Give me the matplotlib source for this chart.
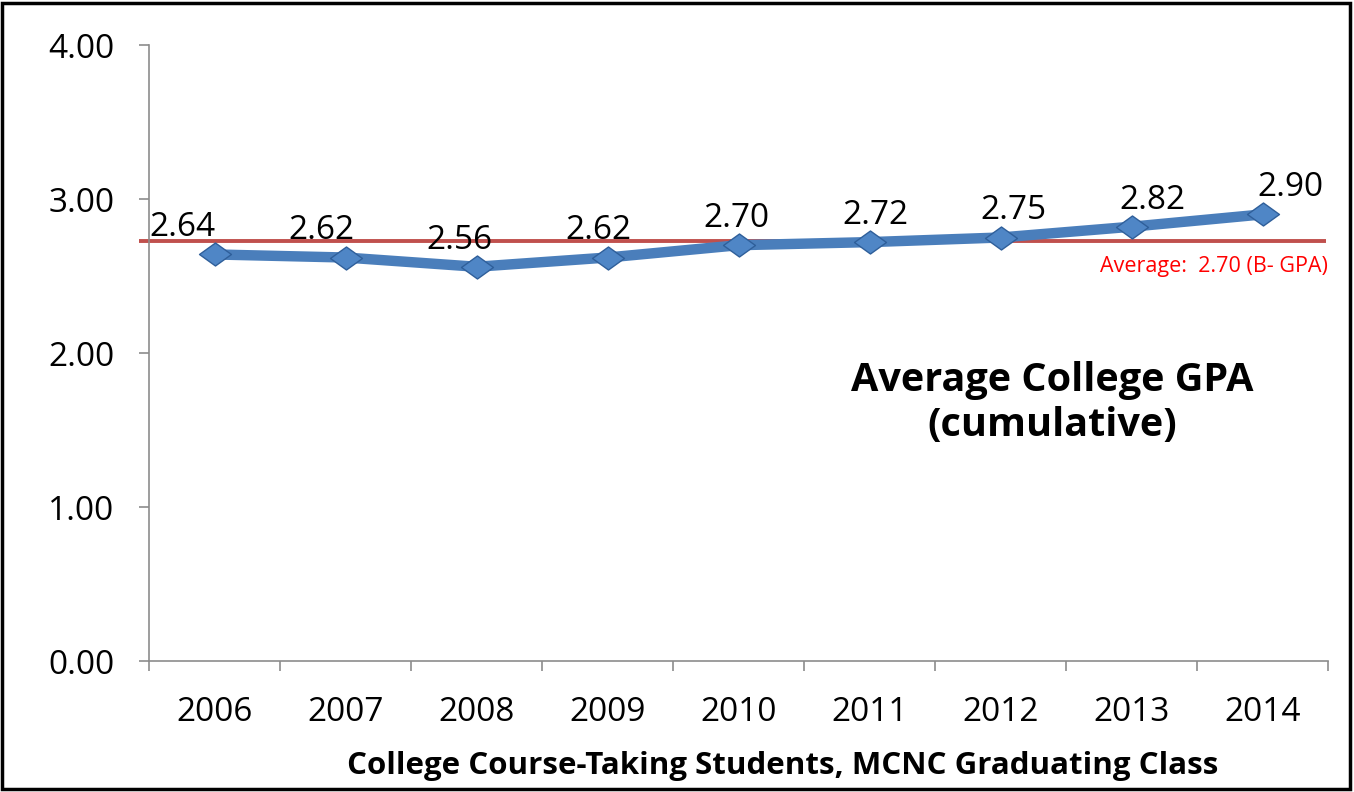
import matplotlib
matplotlib.use("Agg")
import matplotlib.pyplot as plt
from matplotlib.patches import Rectangle
from matplotlib.path import Path
import numpy as np

years = ["2006", "2007", "2008", "2009", "2010", "2011", "2012", "2013", "2014"]
gpa = [2.64, 2.62, 2.56, 2.62, 2.70, 2.72, 2.75, 2.82, 2.90]
gpa_labels = ["2.64", "2.62", "2.56", "2.62", "2.70", "2.72", "2.75", "2.82", "2.90"]
avg_line = 2.73
avg_text = "Average:  2.70 (B- GPA)"
yticks = [0.0, 1.0, 2.0, 3.0, 4.0]

plt.rcParams['font.family'] = ['Open Sans', 'DejaVu Sans']

fig = plt.figure(figsize=(13.54, 7.92), dpi=100)
ax = fig.add_axes([149/1354, 131/792, (1328-149)/1354, (661-45)/792])

x = np.arange(len(years))
diamond = Path([(-1, 0), (0, 0.72), (1, 0), (0, -0.72), (-1, 0)],
               [Path.MOVETO, Path.LINETO, Path.LINETO, Path.LINETO, Path.CLOSEPOLY])

# average line
ax.plot([-0.575, 8.485], [avg_line, avg_line], color='#c0504d', lw=2.8,
        clip_on=False, zorder=2, solid_capstyle='butt')

ax.plot(x, gpa, color='#4a7ebb', lw=7.5, zorder=3, solid_joinstyle='round')
ax.plot(x, gpa, linestyle='none', marker=diamond, markersize=23,
        markerfacecolor='#4f86c6', markeredgecolor='#2f5f9a', markeredgewidth=1.0, zorder=4)

for i, (xi, v, lab) in enumerate(zip(x, gpa, gpa_labels)):
    dx = (-32 + 7.5 * i) / 1.389
    ax.annotate(lab, (xi, v), xytext=(dx, 13), textcoords='offset points',
                ha='center', va='baseline', fontsize=24, color='black', zorder=5)

ax.text(8.50, avg_line - 0.1, avg_text, color='#ff0000', fontsize=15.5,
        ha='right', va='top', zorder=5)

ax.set_xlim(-0.5, 8.5)
ax.set_ylim(0, 4)
ax.set_yticks(yticks)
ax.set_yticklabels([f"{t:.2f}" for t in yticks])
ax.set_xticks(x)
ax.set_xticklabels(years)
ax.set_xticks(np.arange(-0.5, 9.0, 1.0), minor=True)

for s in ['top', 'right']:
    ax.spines[s].set_visible(False)
for s in ['left', 'bottom']:
    ax.spines[s].set_color('#8c8c8c')
    ax.spines[s].set_linewidth(1.2)

ax.tick_params(axis='y', which='major', direction='out', length=7, width=1.2,
               color='#8c8c8c', labelsize=24, pad=18)
ax.tick_params(axis='x', which='major', length=0, labelsize=24, pad=25)
ax.tick_params(axis='x', which='minor', direction='out', length=7, width=1.2, color='#8c8c8c')

fig.text(1052/1354, 1 - 403/792, "Average College GPA\n(cumulative)", ha='center', va='center',
         fontsize=28.5, fontweight='bold', linespacing=1.2)
fig.text(783/1354, 1 - 766/792, "College Course-Taking Students, MCNC Graduating Class",
         ha='center', va='center', fontsize=22.5, fontweight='bold')

fig.patches.append(Rectangle((2/1354, 3/792), 1348/1354, 786/792, transform=fig.transFigure,
                             fill=False, edgecolor='black', lw=2.5))

fig.savefig("out.png", dpi=100)
